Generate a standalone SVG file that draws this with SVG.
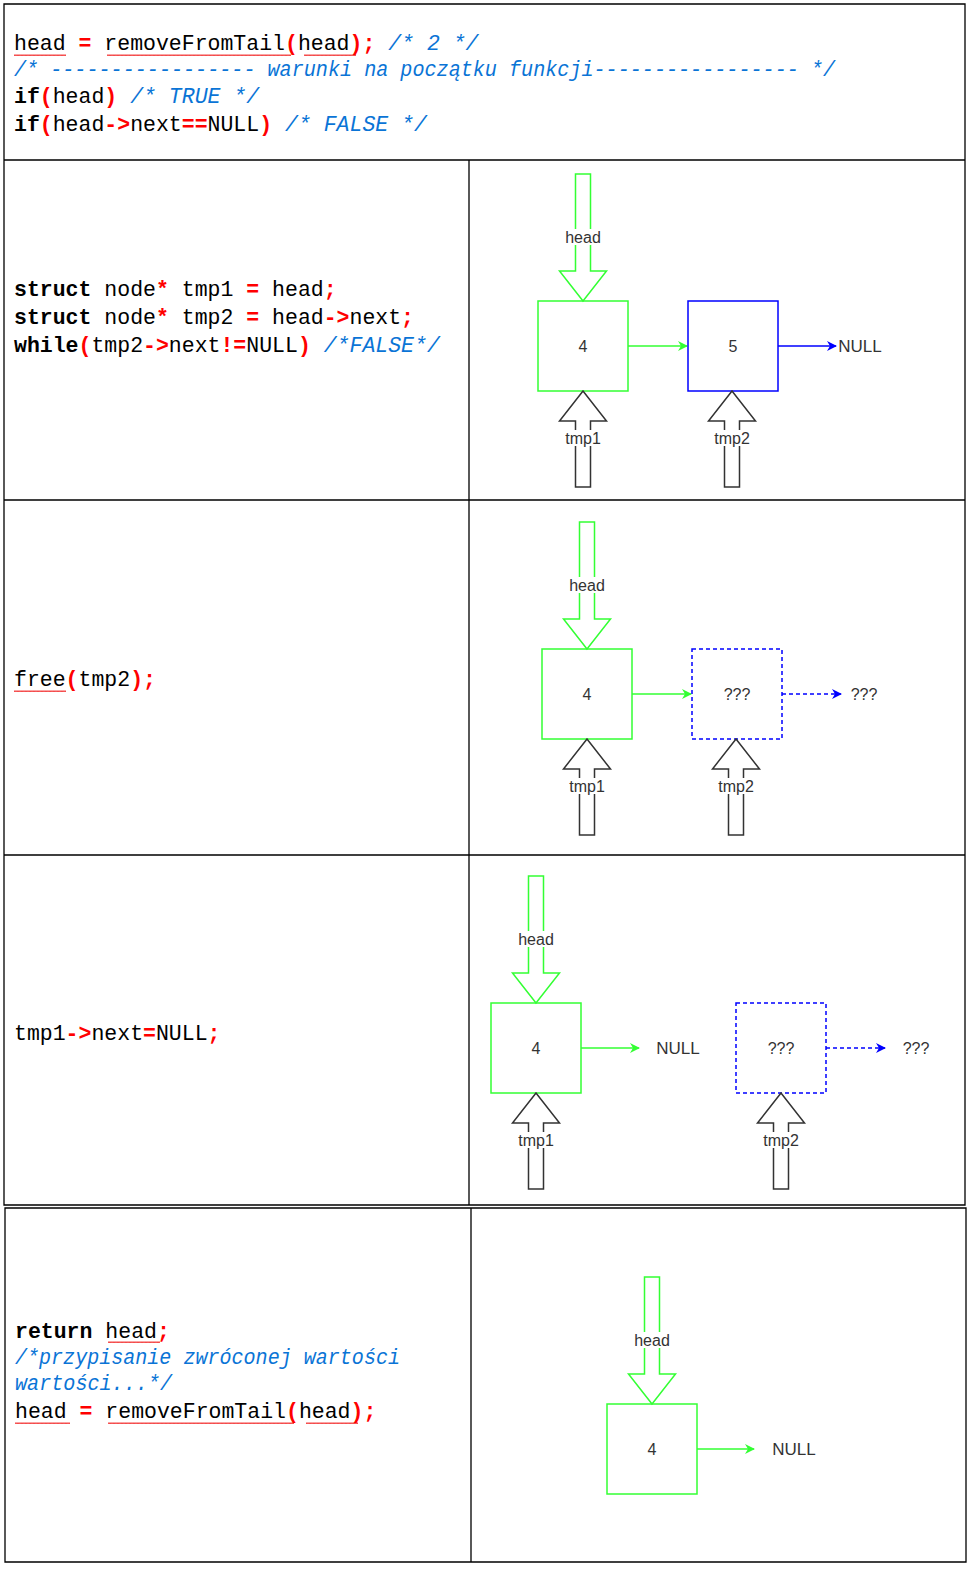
<svg xmlns="http://www.w3.org/2000/svg" width="972" height="1571" viewBox="0 0 972 1571">
<defs>
<style>
.c{font-family:"Liberation Mono","DejaVu Sans Mono",monospace;font-size:21.5px;fill:#000;white-space:pre}
.k{font-weight:bold}
.o{fill:#f00;font-weight:bold}
.m{fill:#0a74d6;font-style:italic}
.g{fill:none;stroke:#000;stroke-width:1.3}
.lb{font-family:"Liberation Sans",Arial,sans-serif;font-size:16px;fill:#333;text-anchor:middle}
.bg{fill:#fff;stroke:#33ff33;stroke-width:1.5}
.bb{fill:#fff;stroke:#0000ff;stroke-width:1.5}
.bd{fill:#fff;stroke:#0000ff;stroke-width:1.5;stroke-dasharray:4 3}
.ag{fill:#fff;stroke:#33ff33;stroke-width:1.5}
.ak{fill:#fff;stroke:#333;stroke-width:1.5}
.lg{stroke:#33ff33;stroke-width:1.5;fill:none}
.lbl{stroke:#0000ff;stroke-width:1.5;fill:none}
.lbd{stroke:#0000ff;stroke-width:1.5;fill:none;stroke-dasharray:4 3}
.w{fill:url(#wave)}
</style>
<pattern id="wave" width="4" height="3" patternUnits="userSpaceOnUse"><path d="M0 2 L1 0.5 L2 2 L3 0.5 L4 2" fill="none" stroke="#e00" stroke-width="0.8"/></pattern>
<path id="dn" d="M-7.5 -127 H7.5 V-30 H23.5 L0 0 L-23.5 -30 H-7.5 Z"/>
<path id="up" d="M-7.5 96 H7.5 V30 H23.5 L0 0 L-23.5 30 H-7.5 Z"/>
<marker id="mg" markerWidth="10" markerHeight="10" refX="9" refY="5" orient="auto" markerUnits="userSpaceOnUse"><path d="M0 0 L10 5 L0 10 L3 5 Z" fill="#33ff33"/></marker>
<marker id="mb" markerWidth="10" markerHeight="10" refX="9" refY="5" orient="auto" markerUnits="userSpaceOnUse"><path d="M0 0 L10 5 L0 10 L3 5 Z" fill="#0000ff"/></marker>
</defs>
<rect width="972" height="1571" fill="#fff"/>
<g id="table">
<path class="g" d="M4 4 H965 V1205 H4 Z M4 160 H965 M4 500 H965 M4 855 H965 M469 160 V1205"/>
<path class="g" d="M5 1208 H966 V1562 H5 Z M471 1208 V1562"/>
</g>
<g id="code">
<text class="c" x="14" y="50">head <tspan class="o">=</tspan> removeFromTail<tspan class="o">(</tspan>head<tspan class="o">);</tspan> <tspan class="m">/* 2 */</tspan></text>
<text class="c m" x="14" y="76" textLength="821" lengthAdjust="spacingAndGlyphs">/* ----------------- warunki na początku funkcji----------------- */</text>
<text class="c" x="14" y="103"><tspan class="k">if</tspan><tspan class="o">(</tspan>head<tspan class="o">)</tspan> <tspan class="m">/* TRUE */</tspan></text>
<text class="c" x="14" y="131"><tspan class="k">if</tspan><tspan class="o">(</tspan>head<tspan class="o">-&gt;</tspan>next<tspan class="o">==</tspan>NULL<tspan class="o">)</tspan> <tspan class="m">/* FALSE */</tspan></text>
<rect class="w" x="14" y="53" width="52" height="3"/><rect class="w" x="107" y="53" width="184" height="3"/><rect class="w" x="304" y="53" width="52" height="3"/>
<text class="c" x="14" y="296"><tspan class="k">struct</tspan> node<tspan class="o">*</tspan> tmp1 <tspan class="o">=</tspan> head<tspan class="o">;</tspan></text>
<text class="c" x="14" y="324"><tspan class="k">struct</tspan> node<tspan class="o">*</tspan> tmp2 <tspan class="o">=</tspan> head<tspan class="o">-&gt;</tspan>next<tspan class="o">;</tspan></text>
<text class="c" x="14" y="352"><tspan class="k">while</tspan><tspan class="o">(</tspan>tmp2<tspan class="o">-&gt;</tspan>next<tspan class="o">!=</tspan>NULL<tspan class="o">)</tspan> <tspan class="m">/*FALSE*/</tspan></text>
<text class="c" x="14" y="686">free<tspan class="o">(</tspan>tmp2<tspan class="o">);</tspan></text>
<rect class="w" x="14" y="689" width="52" height="3"/>
<text class="c" x="14" y="1040">tmp1<tspan class="o">-&gt;</tspan>next<tspan class="o">=</tspan>NULL<tspan class="o">;</tspan></text>
<text class="c" x="15" y="1338"><tspan class="k">return</tspan> head<tspan class="o">;</tspan></text>
<rect class="w" x="108" y="1341" width="52" height="3"/>
<text class="c m" x="15" y="1364" textLength="385" lengthAdjust="spacingAndGlyphs">/*przypisanie zwróconej wartości</text>
<text class="c m" x="15" y="1390" textLength="157" lengthAdjust="spacingAndGlyphs">wartości...*/</text>
<text class="c" x="15" y="1418">head <tspan class="o">=</tspan> removeFromTail<tspan class="o">(</tspan>head<tspan class="o">);</tspan></text>
<rect class="w" x="15" y="1421" width="55" height="3"/><rect class="w" x="108" y="1421" width="186" height="3"/><rect class="w" x="306" y="1421" width="52" height="3"/>
</g>
<g id="connectors">
<line class="lg" x1="628" y1="346" x2="687" y2="346" marker-end="url(#mg)"/>
<line class="lbl" x1="778" y1="346" x2="836" y2="346" marker-end="url(#mb)"/>
<line class="lg" x1="632" y1="694" x2="691" y2="694" marker-end="url(#mg)"/>
<line class="lbd" x1="782" y1="694" x2="841" y2="694" marker-end="url(#mb)"/>
<line class="lg" x1="581" y1="1048" x2="639" y2="1048" marker-end="url(#mg)"/>
<line class="lbd" x1="826" y1="1048" x2="885" y2="1048" marker-end="url(#mb)"/>
<line class="lg" x1="697" y1="1449" x2="754" y2="1449" marker-end="url(#mg)"/>
</g>
<g id="row2">
<g id="r2-box1"><rect class="bg" x="538" y="301" width="90" height="90"/><text class="lb" x="583" y="352">4</text></g>
<g id="r2-box2"><rect class="bb" x="688" y="301" width="90" height="90"/><text class="lb" x="733" y="352">5</text></g>
<text class="lb" x="860" y="352" style="font-size:17px">NULL</text>
<g id="r2-head"><use href="#dn" class="ag" x="583" y="301"/><rect x="564" y="229" width="38" height="16" fill="#fff"/><text class="lb" x="583" y="243">head</text></g>
<g id="r2-tmp1"><use href="#up" class="ak" x="583" y="391"/><rect x="564" y="430" width="38" height="16" fill="#fff"/><text class="lb" x="583" y="444">tmp1</text></g>
<g id="r2-tmp2"><use href="#up" class="ak" x="732" y="391"/><rect x="713" y="430" width="38" height="16" fill="#fff"/><text class="lb" x="732" y="444">tmp2</text></g>
</g>
<g id="row3">
<g id="r3-box1"><rect class="bg" x="542" y="649" width="90" height="90"/><text class="lb" x="587" y="700">4</text></g>
<g id="r3-box2"><rect class="bd" x="692" y="649" width="90" height="90"/><text class="lb" x="737" y="700">???</text></g>
<text class="lb" x="864" y="700">???</text>
<g id="r3-head"><use href="#dn" class="ag" x="587" y="649"/><rect x="568" y="577" width="38" height="16" fill="#fff"/><text class="lb" x="587" y="591">head</text></g>
<g id="r3-tmp1"><use href="#up" class="ak" x="587" y="739"/><rect x="568" y="778" width="38" height="16" fill="#fff"/><text class="lb" x="587" y="792">tmp1</text></g>
<g id="r3-tmp2"><use href="#up" class="ak" x="736" y="739"/><rect x="717" y="778" width="38" height="16" fill="#fff"/><text class="lb" x="736" y="792">tmp2</text></g>
</g>
<g id="row4">
<g id="r4-box1"><rect class="bg" x="491" y="1003" width="90" height="90"/><text class="lb" x="536" y="1054">4</text></g>
<text class="lb" x="678" y="1054" style="font-size:17px">NULL</text>
<g id="r4-box2"><rect class="bd" x="736" y="1003" width="90" height="90"/><text class="lb" x="781" y="1054">???</text></g>
<text class="lb" x="916" y="1054">???</text>
<g id="r4-head"><use href="#dn" class="ag" x="536" y="1003"/><rect x="517" y="931" width="38" height="16" fill="#fff"/><text class="lb" x="536" y="945">head</text></g>
<g id="r4-tmp1"><use href="#up" class="ak" x="536" y="1093"/><rect x="517" y="1132" width="38" height="16" fill="#fff"/><text class="lb" x="536" y="1146">tmp1</text></g>
<g id="r4-tmp2"><use href="#up" class="ak" x="781" y="1093"/><rect x="762" y="1132" width="38" height="16" fill="#fff"/><text class="lb" x="781" y="1146">tmp2</text></g>
</g>
<g id="row5">
<g id="r5-box1"><rect class="bg" x="607" y="1404" width="90" height="90"/><text class="lb" x="652" y="1455">4</text></g>
<text class="lb" x="794" y="1455" style="font-size:17px">NULL</text>
<g id="r5-head"><use href="#dn" class="ag" x="652" y="1404"/><rect x="633" y="1332" width="38" height="16" fill="#fff"/><text class="lb" x="652" y="1346">head</text></g>
</g>
</svg>
